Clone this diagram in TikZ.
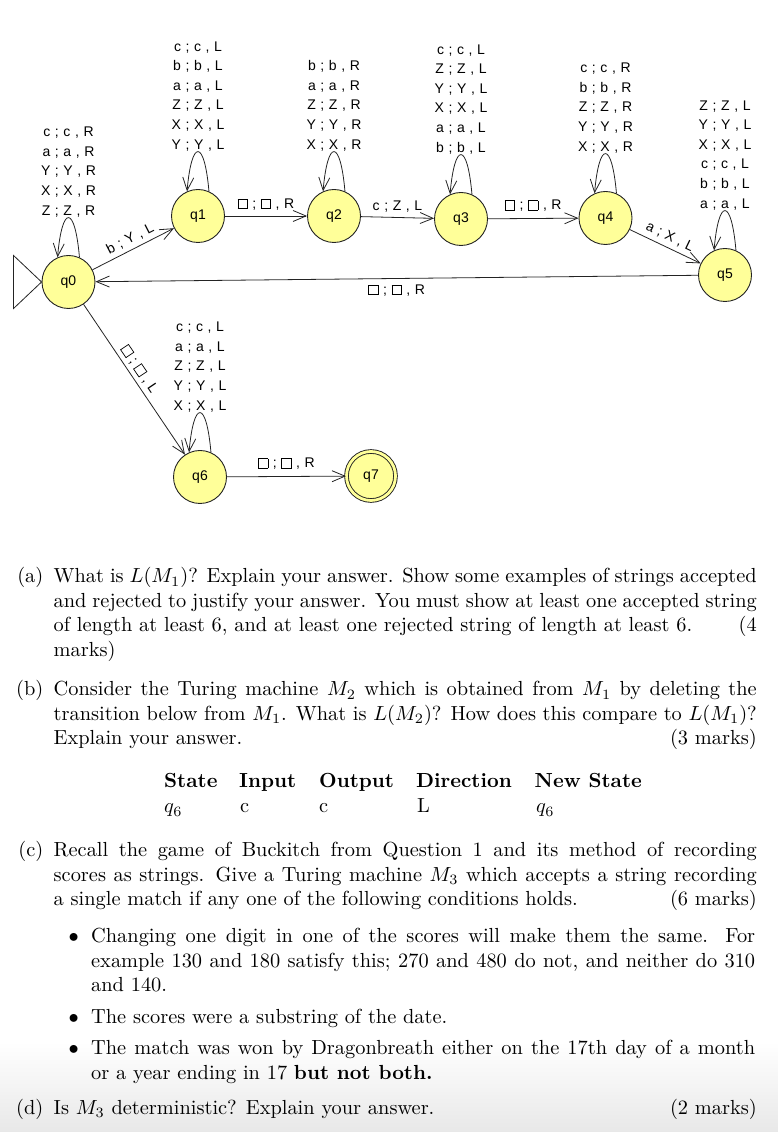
\documentclass[tikz,border=0pt]{standalone}
\usepackage{fontspec}
\usepackage{graphicx}
\usetikzlibrary{arrows.meta}
\newfontfamily\dfont{Liberation Sans}
\definecolor{stfill}{RGB}{255,255,153}
\definecolor{ln}{RGB}{35,35,35}
\newcommand{\bx}{{\setlength{\fboxsep}{0pt}\setlength{\fboxrule}{0.7pt}\fbox{\rule{0pt}{8.8pt}\rule{8.8pt}{0pt}}}}
\newcommand{\trn}[3]{#1\hspace{4.6pt};\hspace{4.6pt}#2\hspace{4.6pt},\hspace{4.6pt}#3}
\newcommand{\ptxt}[2]{\scalebox{2.038}{\parbox[t]{#1}{\fontsize{10}{12}\selectfont #2}}}
\newcommand{\stxt}[1]{\scalebox{2.038}{\fontsize{10}{12}\selectfont #1}}
\begin{document}
\begin{tikzpicture}[x=1pt,y=1pt,
  >={Straight Barb[length=13pt,width=11pt]},
  st/.style={circle,draw=ln,fill=stfill,line width=0.9pt,minimum size=53pt,inner sep=0pt,font=\dfont\fontsize{14}{16}\selectfont},
  accst/.style={st,minimum size=49pt,double=stfill,double distance=2.8pt},
  edge/.style={->,draw=ln,line width=0.8pt},
  elab/.style={inner sep=0pt,font=\dfont\fontsize{14}{16}\selectfont,text=black},
  llab/.style={anchor=south,inner sep=0pt,align=center,font=\dfont\fontsize{14}{19.6}\selectfont},
  lp/.style={->,draw=ln,line width=0.8pt},
  txt/.style={inner sep=0pt,anchor=base west},
  lbl/.style={inner sep=0pt,anchor=base east}]
\useasboundingbox (0,0) rectangle (778,1132);
\shade[top color=white,bottom color=black!9] (0,0) rectangle (778,90);

% states
\node[st] (q0) at (68.5,850) {q0};
\node[st] (q1) at (198,916) {q1};
\node[st] (q2) at (334,916) {q2};
\node[st] (q3) at (461,913) {q3};
\node[st] (q4) at (605.5,914) {q4};
\node[st] (q5) at (725,857) {q5};
\node[st] (q6) at (200,655) {q6};
\node[accst] (q7) at (371,656) {q7};

% initial marker
\draw[draw=ln,line width=0.8pt] (q0.west) -- ++(-28,26.5) -- ++(0,-53) -- cycle;

% self loops
\foreach \q in {q0,q1,q2,q3,q4,q5,q6}{
  \draw[lp] (\q.66) .. controls +(95:53) and +(85:53) .. (\q.114);
}
\node[llab] (l0) at ([yshift=38pt]q0.north) {\trn{c}{c}{R}\\\trn{a}{a}{R}\\\trn{Y}{Y}{R}\\\trn{X}{X}{R}\\\trn{Z}{Z}{R}};
\node[llab] (l1) at ([yshift=38pt]q1.north) {\trn{c}{c}{L}\\\trn{b}{b}{L}\\\trn{a}{a}{L}\\\trn{Z}{Z}{L}\\\trn{X}{X}{L}\\\trn{Y}{Y}{L}};
\node[llab] (l2) at ([yshift=38pt]q2.north) {\trn{b}{b}{R}\\\trn{a}{a}{R}\\\trn{Z}{Z}{R}\\\trn{Y}{Y}{R}\\\trn{X}{X}{R}};
\node[llab] (l3) at ([yshift=38pt]q3.north) {\trn{c}{c}{L}\\\trn{Z}{Z}{L}\\\trn{Y}{Y}{L}\\\trn{X}{X}{L}\\\trn{a}{a}{L}\\\trn{b}{b}{L}};
\node[llab] (l4) at ([yshift=38pt]q4.north) {\trn{c}{c}{R}\\\trn{b}{b}{R}\\\trn{Z}{Z}{R}\\\trn{Y}{Y}{R}\\\trn{X}{X}{R}};
\node[llab] (l5) at ([yshift=38pt]q5.north) {\trn{Z}{Z}{L}\\\trn{Y}{Y}{L}\\\trn{X}{X}{L}\\\trn{c}{c}{L}\\\trn{b}{b}{L}\\\trn{a}{a}{L}};
\node[llab] (l6) at ([yshift=38pt]q6.north) {\trn{c}{c}{L}\\\trn{a}{a}{L}\\\trn{Z}{Z}{L}\\\trn{Y}{Y}{L}\\\trn{X}{X}{L}};

% transitions
\draw[edge] (q0) -- node[elab,above=4pt,sloped,pos=0.52]{\trn{b}{Y}{L}} (q1);
\draw[edge] (q1) -- node[elab,above=5.5pt]{\trn{\bx}{\bx}{R}} (q2);
\draw[edge] (q2) -- node[elab,above=5pt]{\trn{c}{Z}{L}} (q3);
\draw[edge] (q3) -- node[elab,above=6.5pt]{\trn{\bx}{\bx}{R}} (q4);
\draw[edge] (q4) -- node[elab,above=4.5pt,sloped]{\trn{a}{X}{L}} (q5);
\draw[edge] (q5) -- node[elab,below=5.5pt]{\trn{\bx}{\bx}{R}} (q0);
\draw[edge] (q0) -- node[elab,above=3.5pt,sloped,pos=0.47]{\trn{\bx}{\bx}{L}} (q6);
\draw[edge] (q6) -- node[elab,above=6.5pt]{\trn{\bx}{\bx}{R}} (q7);

% question text
\node[lbl] (la) at (43.5,549) {\stxt{(a)}};
\node[txt] (pa) at (53.5,549) {\ptxt{345pt}{What is $L(M_1)$? Explain your answer. Show some examples of strings accepted\linebreak and rejected to justify your answer. You must show at least one accepted string\linebreak of length at least 6, and at least one rejected string of length at least 6.\hfill(4\linebreak marks)}};

\node[lbl] (lb) at (43.5,436) {\stxt{(b)}};
\node[txt] (pb) at (53.5,436) {\ptxt{345pt}{\parfillskip=0pt Consider the Turing machine $M_2$ which is obtained from $M_1$ by deleting the\linebreak transition below from $M_1$. What is $L(M_2)$? How does this compare to $L(M_1)$?\linebreak Explain your answer.\hfill(3 marks)}};

\node[txt] (h1) at (164,344) {\stxt{\textbf{State}}};
\node[txt] (h2) at (239,344) {\stxt{\textbf{Input}}};
\node[txt] (h3) at (319,344) {\stxt{\textbf{Output}}};
\node[txt] (h4) at (416,344) {\stxt{\textbf{Direction}}};
\node[txt] (h5) at (534.5,344) {\stxt{\textbf{New State}}};
\node[txt] (r1) at (164,319) {\stxt{$q_6$}};
\node[txt] (r2) at (240,319) {\stxt{c}};
\node[txt] (r3) at (319,319) {\stxt{c}};
\node[txt] (r4) at (417,319) {\stxt{L}};
\node[txt] (r5) at (536,319) {\stxt{$q_6$}};

\node[lbl] (lc) at (43.5,275) {\stxt{(c)}};
\node[txt] (pc) at (53.5,275) {\ptxt{345pt}{\parfillskip=0pt Recall the game of Buckitch from Question 1 and its method of recording\linebreak scores as strings. Give a Turing machine $M_3$ which accepts a string recording\linebreak a single match if any one of the following conditions holds.\hfill(6 marks)}};

\node[lbl] (u1) at (79,189) {\stxt{$\bullet$}};
\node[txt] (pu1) at (91,189) {\ptxt{325.8pt}{Changing one digit in one of the scores will make them the same. For\linebreak example 130 and 180 satisfy this; 270 and 480 do not, and neither do 310\linebreak and 140.}};
\node[lbl] (u2) at (79,108) {\stxt{$\bullet$}};
\node[txt] (pu2) at (91,108) {\ptxt{325.8pt}{The scores were a substring of the date.}};
\node[lbl] (u3) at (79,77) {\stxt{$\bullet$}};
\node[txt] (pu3) at (91,77) {\ptxt{325.8pt}{The match was won by Dragonbreath either on the 17th day of a month\linebreak or a year ending in 17 \textbf{but not both.}}};

\node[lbl] (ld) at (43.5,18) {\stxt{(d)}};
\node[txt] (pd) at (53.5,18) {\ptxt{345pt}{\parfillskip=0pt Is $M_3$ deterministic? Explain your answer.\hfill(2 marks)}};
\end{tikzpicture}
\end{document}
